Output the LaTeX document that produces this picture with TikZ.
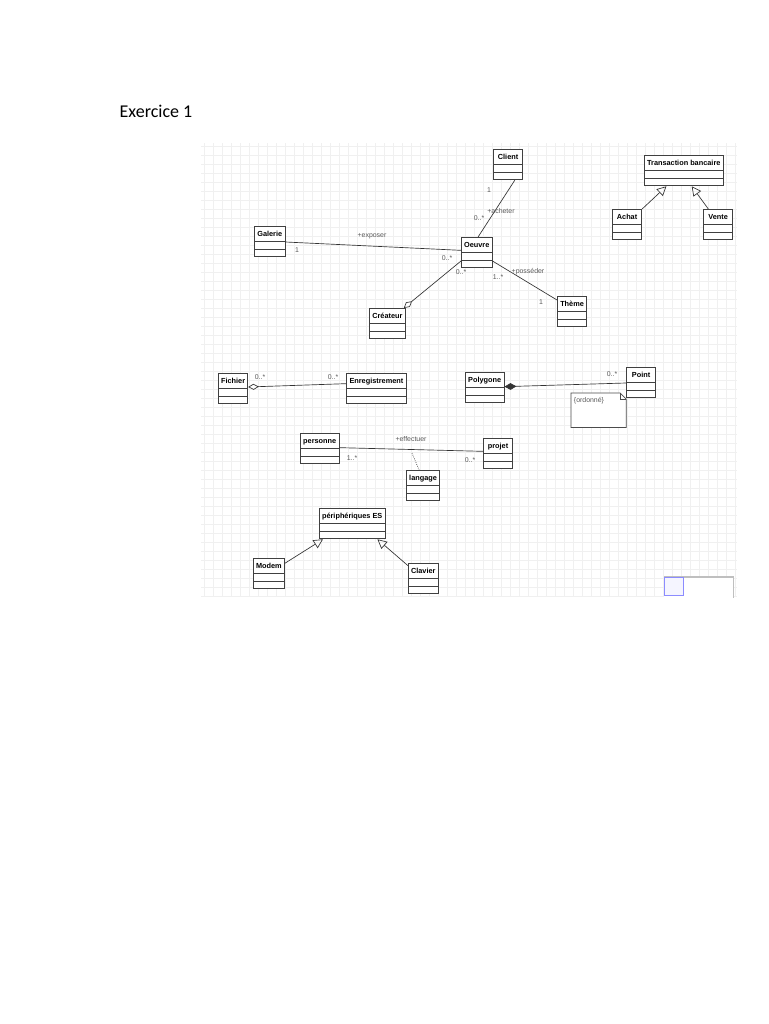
\documentclass[tikz,border=0pt]{standalone}
\usepackage{fontspec}
\setmainfont{Liberation Sans}
\newfontfamily\titlefont{Carlito}
\usetikzlibrary{positioning, arrows.meta, shapes.multipart}

\begin{document}
\begin{tikzpicture}[
        x=0.75pt, y=-0.75pt,
        every node/.style={font=\fontsize{5.2}{6}\selectfont},
        umlclass/.style={rectangle split, rectangle split parts=3, draw=black!75, fill=white, line width=0.6pt,
            inner xsep=2pt, inner ysep=0pt, rectangle split empty part height=3.5pt, rectangle split empty part depth=0pt,
            anchor=north west, font=\fontsize{5.5}{6}\selectfont\bfseries},
        mult/.style={text=black!65, inner sep=0.5pt},
        gridline/.style={draw=black!6, line width=0.3pt},
        assoc/.style={draw=black!80, line width=0.5pt},
        inherit/.style={assoc, -{Triangle[open, length=7pt, width=7pt]}},
        aggreg/.style={assoc, -{Diamond[open, length=8pt, width=4.5pt]}},
        compos/.style={assoc, -{Diamond[length=9pt, width=5pt]}}
    ]
        \useasboundingbox (0,0) rectangle (768,1024);
        % Title
        \node[anchor=west, font=\titlefont\fontsize{13.5}{15}\selectfont] (title) at (115,111) {Exercice 1};
        % Grid background
        \fill[white] (201,143) rectangle (737,597);
        \foreach \gx in {204,213,...,737} \draw[gridline] (\gx,143) -- (\gx,597);
        \foreach \gy in {146,155,...,597} \draw[gridline] (201,\gy) -- (737,\gy);
        % Classes: first exercise
        \node[umlclass, minimum width=22pt] (client) at (493,149) {\rule[-3.5pt]{0pt}{10.5pt}Client \nodepart{two}\nodepart{three}};
        \node[umlclass, minimum width=59pt] (trans) at (644,155) {\rule[-3.5pt]{0pt}{10.5pt}Transaction bancaire \nodepart{two}\nodepart{three}};
        \node[umlclass, minimum width=22pt] (achat) at (612,209) {\rule[-3.5pt]{0pt}{10.5pt}Achat \nodepart{two}\nodepart{three}};
        \node[umlclass, minimum width=22pt] (vente) at (703,209) {\rule[-3.5pt]{0pt}{10.5pt}Vente \nodepart{two}\nodepart{three}};
        \node[umlclass, minimum width=23pt] (galerie) at (254,226) {\rule[-3.5pt]{0pt}{10.5pt}Galerie \nodepart{two}\nodepart{three}};
        \node[umlclass, minimum width=23pt] (oeuvre) at (461,237) {\rule[-3.5pt]{0pt}{10.5pt}Oeuvre \nodepart{two}\nodepart{three}};
        \node[umlclass, minimum width=22pt] (theme) at (557,296) {\rule[-3.5pt]{0pt}{10.5pt}Thème \nodepart{two}\nodepart{three}};
        \node[umlclass, minimum width=27pt] (createur) at (369,308) {\rule[-3.5pt]{0pt}{10.5pt}Créateur \nodepart{two}\nodepart{three}};
        % Classes: second exercise
        \node[umlclass, minimum width=22pt] (fichier) at (218,373) {\rule[-3.5pt]{0pt}{10.5pt}Fichier \nodepart{two}\nodepart{three}};
        \node[umlclass, minimum width=45pt] (enreg) at (346,373) {\rule[-3.5pt]{0pt}{10.5pt}Enregistrement \nodepart{two}\nodepart{three}};
        \node[umlclass, minimum width=29pt] (polygone) at (465,372) {\rule[-3.5pt]{0pt}{10.5pt}Polygone \nodepart{two}\nodepart{three}};
        \node[umlclass, minimum width=22pt] (point) at (626,367) {\rule[-3.5pt]{0pt}{10.5pt}Point \nodepart{two}\nodepart{three}};
        \node[umlclass, minimum width=29pt] (personne) at (300,433) {\rule[-3.5pt]{0pt}{10.5pt}personne \nodepart{two}\nodepart{three}};
        \node[umlclass, minimum width=22pt] (projet) at (483,438) {\rule[-3.5pt]{0pt}{10.5pt}projet \nodepart{two}\nodepart{three}};
        \node[umlclass, minimum width=25pt] (langage) at (406,470) {\rule[-3.5pt]{0pt}{10.5pt}langage \nodepart{two}\nodepart{three}};
        \node[umlclass, minimum width=49pt] (periph) at (319,508) {\rule[-3.5pt]{0pt}{10.5pt}périphériques ES \nodepart{two}\nodepart{three}};
        \node[umlclass, minimum width=22pt] (modem) at (253,558) {\rule[-3.5pt]{0pt}{10.5pt}Modem \nodepart{two}\nodepart{three}};
        \node[umlclass, minimum width=22pt] (clavier) at (408,563) {\rule[-3.5pt]{0pt}{10.5pt}Clavier \nodepart{two}\nodepart{three}};
        % Note
        \node[anchor=north west, minimum width=41pt, minimum height=25.5pt, inner sep=0pt] (note) at (571,393) {};
        \draw[draw=black!70, fill=white, line width=0.5pt] (note.north west) -- ([xshift=-4.5pt]note.north east) -- ([yshift=-4.5pt]note.north east) -- (note.south east) -- (note.south west) -- cycle;
        \draw[draw=black!70, line width=0.4pt] ([xshift=-4.5pt]note.north east) |- ([yshift=-4.5pt]note.north east);
        \node[anchor=north west, mult] (notetext) at ([shift={(1.5pt,-2.5pt)}]note.north west) {\{ordonné\}};
        % Associations
        \draw[assoc] ([xshift=5pt]client.south) -- ([xshift=1pt]oeuvre.north);
        \draw[assoc] ([yshift=-12pt]galerie.north east) -- ([yshift=-10pt]oeuvre.north west);
        \draw[aggreg] ([yshift=-18pt]oeuvre.north west) -- ([xshift=-1.5pt]createur.north east);
        \draw[assoc] ([yshift=-18pt]oeuvre.north east) -- ([yshift=-3pt]theme.north west);
        \draw[aggreg] ([yshift=-8pt]enreg.north west) -- ([yshift=-10.5pt]fichier.north east);
        \draw[compos] ([yshift=-12pt]point.north west) -- ([yshift=-11pt]polygone.north east);
        \draw[assoc] ([yshift=-11pt]personne.north east) -- ([yshift=-10pt]projet.north west);
        \coordinate (effmid) at (412,453);
        \draw[draw=black!85, line width=0.5pt, densely dotted] (effmid) -- ([xshift=-3pt]langage.north);
        % Inheritance
        \draw[inherit] (achat.north east) -- ([xshift=-13pt]trans.south);
        \draw[inherit] ([xshift=4pt]vente.north west) -- ([xshift=6pt]trans.south);
        \draw[inherit] ([yshift=-4pt]modem.north east) -- ([xshift=3pt]periph.south west);
        \draw[inherit] ([yshift=-2pt]clavier.north west) -- ([xshift=-6pt]periph.south east);
        % Labels and multiplicities
        \node[mult] (m1) at (489,190) {1};
        \node[mult] (m2) at (479,218) {0..*};
        \node[mult] (l1) at (501,211) {+acheter};
        \node[mult] (l2) at (372,236) {+exposer};
        \node[mult] (m3) at (297,250) {1};
        \node[mult] (m4) at (447,258) {0..*};
        \node[mult] (m5) at (461,272) {0..*};
        \node[mult] (m6) at (498,277) {1..*};
        \node[mult] (l3) at (528,272) {+posséder};
        \node[mult] (m7) at (541,302) {1};
        \node[mult] (m8) at (260,377) {0..*};
        \node[mult] (m9) at (333,377) {0..*};
        \node[mult] (m10) at (612,374) {0..*};
        \node[mult] (l4) at (411,439) {+effectuer};
        \node[mult] (m11) at (352,458) {1..*};
        \node[mult] (m12) at (470,460) {0..*};
        % Editor widget
        \node[anchor=north west, minimum width=51.75pt, minimum height=15pt, inner sep=0pt, fill=white] (widget) at (664,577) {};
        \draw[draw=black!25, line width=0.8pt] (widget.south east) -- (widget.north east) -- (widget.north west);
        \node[anchor=north west, minimum width=14pt, minimum height=13.5pt, inner sep=0pt, draw=blue!45, fill=blue!4] (wicon) at (widget.north west) {};
    \end{tikzpicture}
\end{document}
